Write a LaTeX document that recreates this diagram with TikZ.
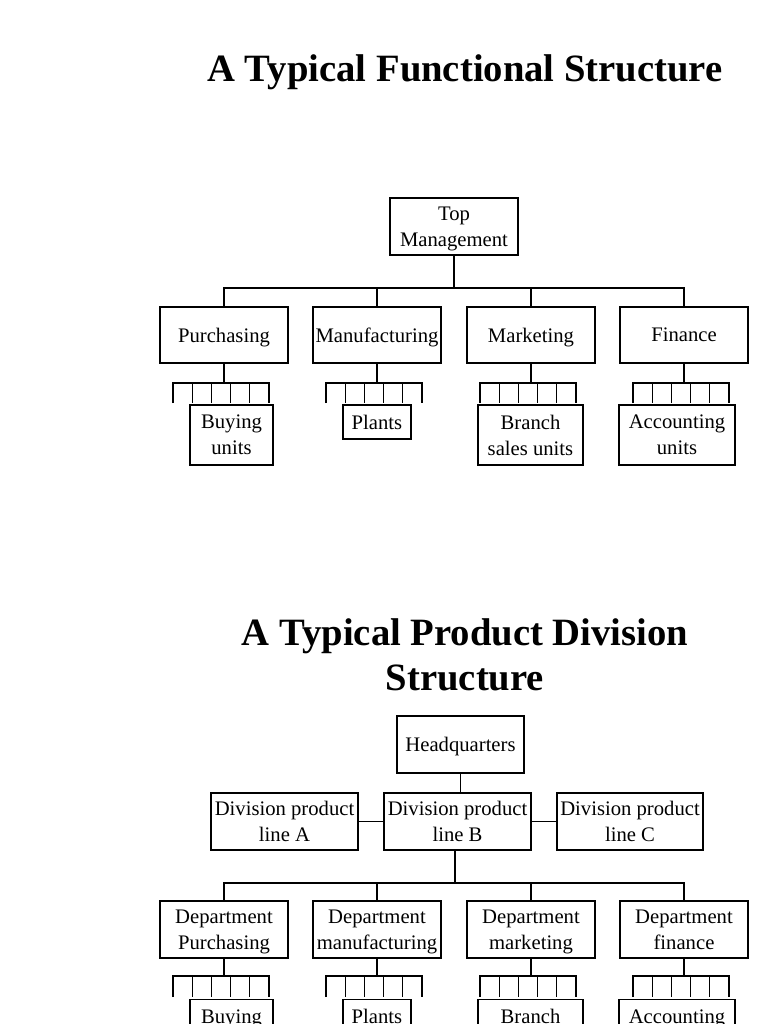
\documentclass[tikz,border=0pt]{standalone}
\usepackage{fontspec}
\setmainfont{Liberation Serif}
\begin{document}
\begin{tikzpicture}[x=0.75pt,y=-0.75pt,
 box/.style={draw,thick,align=center,inner sep=0pt,text depth=0pt,font=\fontsize{15.5}{19.5}\selectfont},
 ttl/.style={align=center,font=\fontsize{29}{34}\selectfont\bfseries},
 ln/.style={thick}]
\useasboundingbox (0,0) rectangle (768,1024);
\clip (0,0) rectangle (768,1024);
\node[ttl] (t1) at (465,72) {A Typical Functional Structure};
\node[ttl] (t2) at (465,655) {A Typical Product Division\\Structure};
% top chart
\node[box,minimum width=128*0.75pt,minimum height=57*0.75pt] (tm) at (454,226.5) {Top\\Management};
\foreach \n/\cx/\t in {p/224/Purchasing,m/377/Manufacturing,k/531/Marketing,f/684/Finance}{
 \node[box,minimum width=128*0.75pt,minimum height=56*0.75pt] (\n) at (\cx,335) {\t};
}
\coordinate (bus1) at (454,288);
\draw[ln] (tm.south) -- (bus1);
\draw[ln] (p.north) |- (f.north |- bus1) -- (f.north);
\draw[ln] (m.north) -- (m.north |- bus1);
\draw[ln] (k.north) -- (k.north |- bus1);
\foreach \n/\cx in {p/224,m/377,k/531,f/684}{
 \draw[ln] (\n.south) -- (\cx,383);
 \draw[ln] (\cx-51,403) -- (\cx-51,383) -- (\cx+45,383) -- (\cx+45,403);
 \foreach \i in {1,...,4} \draw[ln] (\cx-51+\i*19.2,383) -- (\cx-51+\i*19.2,403);
}
\node[box,minimum width=83*0.75pt,minimum height=60*0.75pt] (bu) at (231.5,435) {Buying\\units};
\node[box,minimum width=68*0.75pt,minimum height=34*0.75pt] (pl) at (377,422) {Plants};
\node[box,minimum width=105*0.75pt,minimum height=60*0.75pt] (br) at (530.5,435) {Branch\\sales units};
\node[box,minimum width=116*0.75pt,minimum height=60*0.75pt] (ac) at (677,435) {Accounting\\units};
% bottom chart
\node[box,minimum width=127*0.75pt,minimum height=57*0.75pt] (hq) at (460.5,744.5) {Headquarters};
\node[box,minimum width=147*0.75pt,minimum height=57*0.75pt] (da) at (284.5,821.5) {Division product\\line A};
\node[box,minimum width=147*0.75pt,minimum height=57*0.75pt] (db) at (457.5,821.5) {Division product\\line B};
\node[box,minimum width=146*0.75pt,minimum height=57*0.75pt] (dc) at (630,821.5) {Division product\\line C};
\draw[ln] (hq.south) -- (db.north -| hq.south);
\draw[ln] (da.east) -- (db.west);
\draw[ln] (db.east) -- (dc.west);
\foreach \n/\cx/\t in {dp/224/Department\\Purchasing,dm/377/Department\\manufacturing,dk/531/Department\\marketing,df/684/Department\\finance}{
 \node[box,minimum width=128*0.75pt,minimum height=57*0.75pt] (\n) at (\cx,929.5) {\t};
}
\coordinate (bus2) at (455,883);
\draw[ln] (db.south -| bus2) -- (bus2);
\draw[ln] (dp.north) |- (df.north |- bus2) -- (df.north);
\draw[ln] (dm.north) -- (dm.north |- bus2);
\draw[ln] (dk.north) -- (dk.north |- bus2);
\foreach \n/\cx in {dp/224,dm/377,dk/531,df/684}{
 \draw[ln] (\n.south) -- (\cx,976);
 \draw[ln] (\cx-51,997) -- (\cx-51,976) -- (\cx+45,976) -- (\cx+45,997);
 \foreach \i in {1,...,4} \draw[ln] (\cx-51+\i*19.2,976) -- (\cx-51+\i*19.2,997);
}
\node[box,anchor=north,minimum width=83*0.75pt,minimum height=60*0.75pt] (bu2) at (231.5,999) {Buying\\units};
\node[box,anchor=north,minimum width=68*0.75pt,minimum height=34*0.75pt] (pl2) at (377,999) {Plants};
\node[box,anchor=north,minimum width=105*0.75pt,minimum height=60*0.75pt] (br2) at (530.5,999) {Branch\\sales units};
\node[box,anchor=north,minimum width=116*0.75pt,minimum height=60*0.75pt] (ac2) at (677,999) {Accounting\\units};
\end{tikzpicture}
\end{document}
